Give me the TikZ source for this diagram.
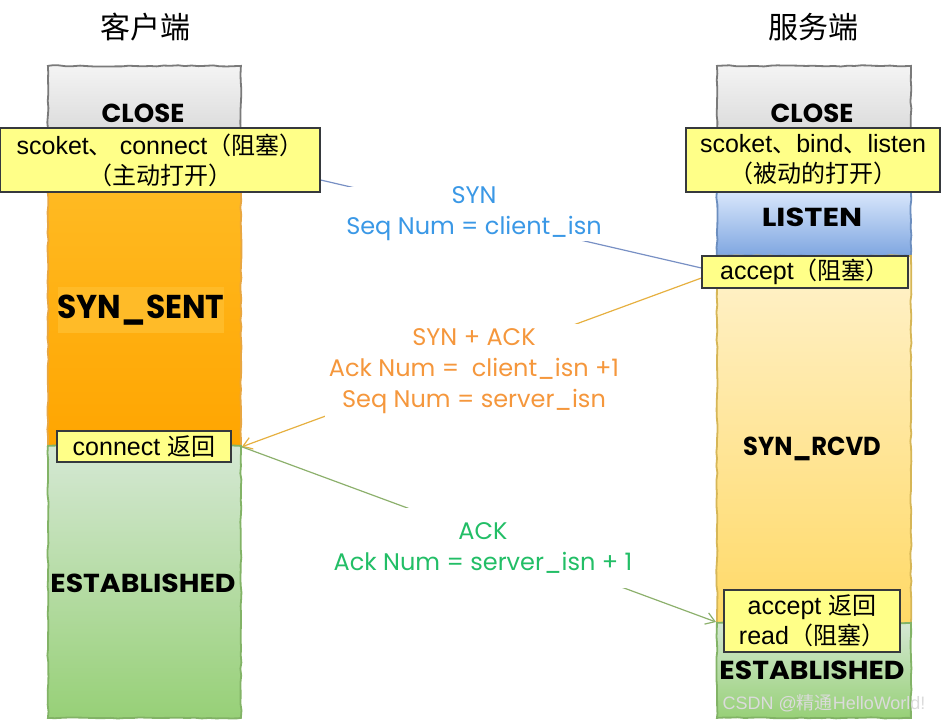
\documentclass[tikz,border=0pt]{standalone}
\usepackage{fontspec}
\setmainfont{Liberation Sans}
\newfontfamily\cjk{Noto Sans CJK SC}
\newfontfamily\comic{Poppins}
\usetikzlibrary{arrows.meta,decorations.pathmorphing}
\newcommand{\zh}[1]{{\cjk\fontsize{24}{30}\selectfont #1}}
\newcommand{\wst}[2]{\scalebox{#1}[1]{#2}}
\definecolor{closeT}{HTML}{F4F4F4}
\definecolor{closeB}{HTML}{C4C4C4}
\definecolor{closeD}{HTML}{7A7A7A}
\definecolor{sentT}{HTML}{FFBA22}
\definecolor{sentB}{HTML}{FFA500}
\definecolor{sentD}{HTML}{E8A640}
\definecolor{sentG}{HTML}{FFBB28}
\definecolor{estT}{HTML}{D5E8D4}
\definecolor{estB}{HTML}{97D077}
\definecolor{estD}{HTML}{82B366}
\definecolor{lisT}{HTML}{DAE8FC}
\definecolor{lisB}{HTML}{7EA6E0}
\definecolor{lisD}{HTML}{6C8EBF}
\definecolor{rcvT}{HTML}{FFF2CC}
\definecolor{rcvB}{HTML}{FFD966}
\definecolor{rcvD}{HTML}{D6B656}
\definecolor{noteF}{HTML}{FFFF88}
\definecolor{noteD}{HTML}{36393D}
\definecolor{synC}{HTML}{3A98E6}
\definecolor{synL}{HTML}{7890C4}
\definecolor{saC}{HTML}{F5973C}
\definecolor{saL}{HTML}{E6B040}
\definecolor{ackC}{HTML}{22BE66}
\definecolor{ackL}{HTML}{8CB06C}
\pgfdeclarelayer{bg}
\pgfdeclarelayer{mid}
\pgfsetlayers{bg,mid,main}
\begin{document}
\begin{tikzpicture}[x=1pt,y=-1pt,
  col/.style={line width=1.8pt, minimum width=193pt, anchor=north west, inner sep=0pt,
    decorate, decoration={random steps,segment length=7pt,amplitude=0.6pt}},
  graycol/.style={col, draw=closeD, top color=closeT, bottom color=closeB},
  sentcol/.style={col, draw=sentD, top color=sentT, bottom color=sentB},
  estcol/.style={col, draw=estD, top color=estT, bottom color=estB},
  liscol/.style={col, draw=lisD, top color=lisT, bottom color=lisB},
  rcvcol/.style={col, draw=rcvD, top color=rcvT, bottom color=rcvB},
  note/.style={draw=noteD, fill=noteF, line width=1.2pt, inner sep=0pt, align=center,
    font=\fontsize{25}{30}\selectfont},
  state/.style={font=\comic\bfseries\fontsize{26}{30}\selectfont, inner sep=0pt},
  msg/.style={font=\comic\fontsize{24}{31}\selectfont, align=center, fill=white, inner xsep=4pt, inner ysep=0pt},
  conn/.style={line width=1.2pt},
  tip/.style={-{Straight Barb[length=9pt,width=12pt,line width=1.2pt]}},
  title/.style={font=\cjk\fontsize{30}{36}\selectfont}
]
\useasboundingbox (0,0) rectangle (944,722);

% titles
\node[title] (tl) at (145,27) {客户端};
\node[title] (tr) at (813,27) {服务端};

% columns
\begin{pgfonlayer}{bg}
\node[graycol, minimum height=127pt] (cclose) at (47,65) {};
\node[sentcol, minimum height=255pt] (csent) at (47,190) {};
\node[estcol, minimum height=272pt] (cest) at (47,445) {};
\node[graycol, minimum width=194pt, minimum height=127pt] (sclose) at (716,65) {};
\node[liscol, minimum width=194pt, minimum height=65pt] (slisten) at (716,190) {};
\node[rcvcol, minimum width=194pt, minimum height=367pt] (srcvd) at (716,255) {};
\node[estcol, minimum width=194pt, minimum height=95pt] (sest) at (716,622) {};
\end{pgfonlayer}

% notes
\node[note, minimum width=320pt, minimum height=64pt] (cnote) at (160,160)
  {scoket\zh{、} connect\zh{（阻塞）}\\\zh{（主动打开）}};
\node[note, minimum width=254pt, minimum height=64pt] (snote) at (813,160)
  {scoket\zh{、}bind\zh{、}listen\\\zh{（被动的打开）}};
\node[note, minimum width=206pt, minimum height=32pt] (accept) at (805,272)
  {accept\zh{（阻塞）}};
\node[note, minimum width=174pt, minimum height=31pt] (connret) at (144,446.5)
  {connect \zh{返回}};
\node[note, minimum width=176pt, minimum height=62pt] (accret) at (812,621)
  {accept \zh{返回}\\read\zh{（阻塞）}};

% state labels
\node[state] (tcclose) at (143,113) {CLOSE};
\node[state, fill=sentG, minimum width=166pt, minimum height=46pt,
  font=\comic\bfseries\fontsize{33}{36}\selectfont] (tsent) at (141,310) {\wst{0.95}{SYN\_SENT}};
\node[state] (tcest) at (143,583) {\wst{1.09}{ESTABLISHED}};
\node[state] (tsclose) at (812,113) {CLOSE};
\node[state] (tlisten) at (812,217) {\wst{1.18}{LISTEN}};
\node[state] (trcvd) at (812,449) {\wst{0.93}{SYN\_RCVD}};
\node[state] (tsest) at (812,670) {\wst{1.09}{ESTABLISHED}};

% connectors and messages
\begin{pgfonlayer}{mid}
\draw[conn, draw=synL] ([yshift=-20pt]cnote.east) -- ([yshift=4pt]accept.west);
\node[msg, text=synC, minimum height=54pt] (msyn) at (474,214)
  {SYN\\Seq Num = client\_isn};
\draw[conn, tip, draw=saL] ([yshift=-6pt]accept.west) -- (csent.south east);
\node[msg, text=saC, minimum height=94pt] (msa) at (474,371)
  {SYN + ACK\\Ack Num = \ client\_isn +1\\Seq Num = server\_isn};
\draw[conn, tip, draw=ackL] (csent.south east) -- (sest.north west);
\node[msg, text=ackC, minimum height=80pt] (mack) at (483,548)
  {ACK\\Ack Num = server\_isn + 1};
\end{pgfonlayer}

% watermark
\node[font=\fontsize{18}{20}\selectfont, text=white!86!black] (wm) at (824,703)
  {CSDN @{\cjk 精通}HelloWorld!};
\end{tikzpicture}
\end{document}
